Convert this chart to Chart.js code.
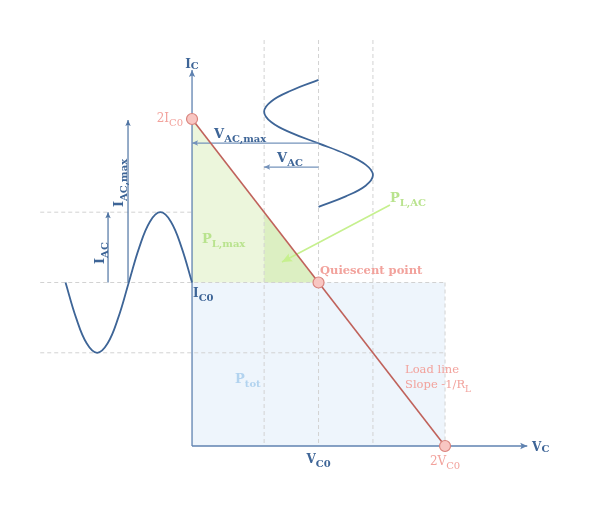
<!DOCTYPE html>
<html>
<head>
<meta charset="utf-8">
<script src="https://cdn.jsdelivr.net/npm/chart.js@4.4.1/dist/chart.umd.min.js"></script>
<style>
  body { margin: 0; background: #fff; }
  canvas { display: block; }
</style>
</head>
<body>
<canvas id="c" width="600" height="512"></canvas>
<script>
// units: x in V_C0, y in I_C0
const loadX = [0, 1, 2];
const loadY = [2, 1, 0];
const acAmp = 0.43;

// input current wave (left) and output voltage wave (top)
const leftWaveX = [-1, -0.917, -0.833, -0.75, -0.667, -0.583, -0.5, -0.417, -0.333, -0.25, -0.167, -0.083, 0];
const leftWaveY = [1, 0.785, 0.628, 0.57, 0.628, 0.785, 1, 1.215, 1.372, 1.43, 1.372, 1.215, 1];
const topWaveX = [1, 0.785, 0.628, 0.57, 0.628, 0.785, 1, 1.215, 1.372, 1.43, 1.372, 1.215, 1];
const topWaveY = [2.239, 2.174, 2.109, 2.045, 1.98, 1.915, 1.851, 1.786, 1.721, 1.657, 1.592, 1.527, 1.463];

const vGrid = [1 - acAmp, 1, 1 + acAmp];
const hGrid = [1 - acAmp, 1, 1 + acAmp];

const BLUE = "#3e6597";
const AXIS = "#5f82b0";
const SALMON = "#f2a29c";
const GREEN_TXT = "#b9e38e";
const GRID = "#d2d2d2";

function pts(xs, ys) {
  return xs.map((x, i) => ({ x: x, y: ys[i] }));
}

const datasets = [];

function line(data, color, width, extra) {
  datasets.push(Object.assign({
    data: data,
    showLine: true,
    borderColor: color,
    borderWidth: width,
    pointRadius: 0,
    pointHoverRadius: 0,
    tension: 0,
    fill: false,
  }, extra || {}));
}

// fills
line(pts([0, 2], [1, 1]), "rgba(0,0,0,0)", 0, { fill: "origin", backgroundColor: "#eef5fc", order: 20 });
line(pts([0, 1], [2, 1]), "rgba(0,0,0,0)", 0, { fill: { value: 1 }, backgroundColor: "#ecf6dc", order: 19 });
line(pts([1 - acAmp, 1], [1 + acAmp, 1]), "rgba(0,0,0,0)", 0, { fill: { value: 1 }, backgroundColor: "#dcefc2", order: 18 });

// dashed guides
vGrid.forEach((v) => line(pts([v, v], [2.483, 0]), GRID, 1, { borderDash: [4, 3], order: 15 }));
line(pts([2, 2], [1, 0]), GRID, 1, { borderDash: [4, 3], order: 15 });
line(pts([-1.2, 0], [hGrid[2], hGrid[2]]), GRID, 1, { borderDash: [4, 3], order: 15 });
line(pts([-1.2, 2], [hGrid[1], hGrid[1]]), GRID, 1, { borderDash: [4, 3], order: 15 });
line(pts([-1.2, 2], [hGrid[0], hGrid[0]]), GRID, 1, { borderDash: [4, 3], order: 15 });

// axes
line(pts([0, 2.65], [0, 0]), AXIS, 1.3, { arrow: 7, order: 10 });
line(pts([0, 0], [0, 2.3]), AXIS, 1.3, { arrow: 7, order: 10 });

// waves
line(pts(leftWaveX, leftWaveY), BLUE, 1.8, { tension: 0.4, order: 8 });
line(pts(topWaveX, topWaveY), BLUE, 1.8, { tension: 0.4, order: 8 });

// amplitude arrows
line(pts([1, 0], [1.853, 1.853]), "#7593bb", 1.2, { arrow: 6, order: 7 });
line(pts([1, 1 - acAmp], [1.706, 1.706]), "#7593bb", 1.2, { arrow: 6, order: 7 });
line(pts([-0.506, -0.506], [1, 1.994]), "#4f74a3", 1.2, { arrow: 6, order: 7 });
line(pts([-0.664, -0.664], [1, 1 + acAmp]), "#4f74a3", 1.2, { arrow: 6, order: 7 });

// P_L,AC pointer
line(pts([1.565, 0.711], [1.474, 1.125]), "#c6f08e", 1.6, { arrow: 10, order: 6 });

// load line and its points
line(pts(loadX, loadY), "#c0625b", 1.6, { order: 5 });
datasets.push({
  data: pts(loadX, loadY),
  pointRadius: 5.5,
  pointHoverRadius: 5.5,
  pointBackgroundColor: "#f8c6c2",
  pointBorderColor: "#d9847e",
  pointBorderWidth: 1.2,
  showLine: false,
  order: 1,
});

const labels = [
  { text: "I", sub: "C", x: 0, y: 2.336, color: BLUE, size: 12, bold: true, align: "center", subDy: 1 },
  { text: "V", sub: "C", x: 2.688, y: -0.006, color: BLUE, size: 12, bold: true, subDy: 1 },
  { text: "2I", sub: "C0", x: -0.071, y: 2.006, color: SALMON, size: 12, align: "right" },
  { text: "V", sub: "AC,max", x: 0.174, y: 1.914, color: BLUE, size: 13, bold: true },
  { text: "V", sub: "AC", x: 0.672, y: 1.768, color: BLUE, size: 13, bold: true },
  { text: "P", sub: "L,AC", x: 1.565, y: 1.523, color: GREEN_TXT, size: 13, bold: true },
  { text: "P", sub: "L,max", x: 0.079, y: 1.272, color: GREEN_TXT, size: 13, bold: true },
  { text: "Quiescent point", x: 1.012, y: 1.076, color: SALMON, size: 11.5, bold: true },
  { text: "I", sub: "C0", x: 0.008, y: 0.936, color: BLUE, size: 12, bold: true },
  { text: "P", sub: "tot", x: 0.34, y: 0.416, color: "#b2d3ef", size: 13, bold: true },
  { text: "Load line", x: 1.684, y: 0.471, color: SALMON, size: 11.5 },
  { text: "Slope -1/R", sub: "L", x: 1.684, y: 0.379, color: SALMON, size: 11.5 },
  { text: "V", sub: "C0", x: 1, y: -0.08, color: BLUE, size: 12, bold: true, align: "center" },
  { text: "2V", sub: "C0", x: 2, y: -0.092, color: SALMON, size: 12, align: "center" },
  { text: "I", sub: "AC,max", x: -0.585, y: 1.609, color: BLUE, size: 13, bold: true, align: "center", rot: -Math.PI / 2 },
  { text: "I", sub: "AC", x: -0.735, y: 1.18, color: BLUE, size: 13, bold: true, align: "center", rot: -Math.PI / 2 },
];

const arrowPlugin = {
  id: "arrows",
  afterDatasetsDraw(chart) {
    const ctx = chart.ctx;
    chart.data.datasets.forEach((ds, i) => {
      if (!ds.arrow) return;
      const el = chart.getDatasetMeta(i).data;
      const a = el[el.length - 2], b = el[el.length - 1];
      const ang = Math.atan2(b.y - a.y, b.x - a.x);
      const len = ds.arrow, half = ds.arrow * 0.45;
      ctx.save();
      ctx.translate(b.x, b.y);
      ctx.rotate(ang);
      ctx.fillStyle = ds.borderColor;
      ctx.beginPath();
      ctx.moveTo(0, 0);
      ctx.lineTo(-len, -half);
      ctx.lineTo(-len * 0.8, 0);
      ctx.lineTo(-len, half);
      ctx.closePath();
      ctx.fill();
      ctx.restore();
    });
  },
};

const labelPlugin = {
  id: "labels",
  afterDraw(chart) {
    const ctx = chart.ctx;
    const sx = chart.scales.x, sy = chart.scales.y;
    labels.forEach((L) => {
      const w = L.bold ? "bold " : "";
      const subSize = Math.round(L.size * 0.8);
      ctx.save();
      ctx.translate(sx.getPixelForValue(L.x), sy.getPixelForValue(L.y));
      if (L.rot) ctx.rotate(L.rot);
      ctx.font = w + L.size + 'px "DejaVu Serif"';
      const mw = ctx.measureText(L.text).width;
      ctx.font = w + subSize + 'px "DejaVu Serif"';
      const sw = L.sub ? ctx.measureText(L.sub).width : 0;
      let x0 = 0;
      if (L.align === "center") x0 = -(mw + sw) / 2;
      if (L.align === "right") x0 = -(mw + sw);
      ctx.fillStyle = L.color;
      ctx.textBaseline = "alphabetic";
      ctx.textAlign = "left";
      const base = L.size * 0.36;
      ctx.font = w + L.size + 'px "DejaVu Serif"';
      ctx.fillText(L.text, x0, base);
      if (L.sub) {
        ctx.font = w + subSize + 'px "DejaVu Serif"';
        ctx.fillText(L.sub, x0 + mw, base + (L.subDy != null ? L.subDy : L.size * 0.3));
      }
      ctx.restore();
    });
  },
};

new Chart(document.getElementById("c"), {
  type: "scatter",
  data: { datasets: datasets },
  options: {
    responsive: false,
    animation: false,
    devicePixelRatio: 1,
    layout: { padding: 0, autoPadding: false },
    plugins: { legend: { display: false }, tooltip: { enabled: false } },
    scales: {
      x: { type: "linear", display: false, min: -1.518, max: 3.225 },
      y: { type: "linear", display: false, min: -0.4037, max: 2.7278 },
    },
  },
  plugins: [arrowPlugin, labelPlugin],
});
</script>
</body>
</html>
